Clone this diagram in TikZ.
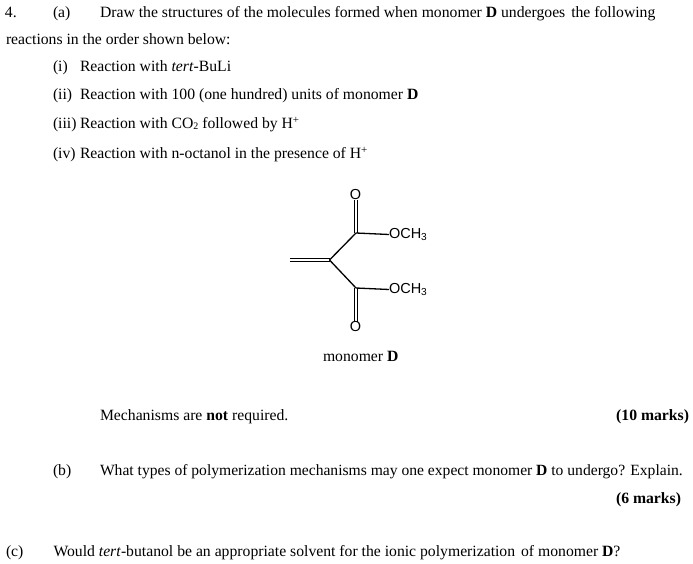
\documentclass[tikz,border=0pt]{standalone}
\usepackage{fontspec}
\setmainfont{Liberation Serif}
\newfontfamily\chemfont{Liberation Sans}
\tikzset{
  x=1pt,y=-1pt,
  txt/.style={anchor=base west,inner sep=0pt,outer sep=0pt,font=\fontsize{15.7}{18}\selectfont},
  txtb/.style={anchor=base west,inner sep=0pt,outer sep=0pt,font=\fontsize{15.6}{18}\selectfont},
  txtr/.style={anchor=base east,inner sep=0pt,outer sep=0pt,font=\fontsize{15.7}{18}\selectfont},
  atom/.style={inner sep=0pt,outer sep=0pt,font=\chemfont\fontsize{14.5}{16}\selectfont},
  bond/.style={draw=black,line width=1.3pt}
}
\newcommand{\boldD}{\textbf{D}}
\newcommand{\lowtwo}{\raisebox{-0.12ex}{\fontsize{10}{10}\selectfont 2}}
\begin{document}
\begin{tikzpicture}
\useasboundingbox (0,0) rectangle (693,564);
\node[txt] (n4) at (5,17.6) {4.};
\node[txt] (a) at (53,17.6) {(a)};
\node[txt] (l1) at (100,17.6) {Draw the structures of the molecules formed when monomer \boldD{} undergoes\hspace{2pt} the following};
\node[txt] (l2) at (6,44.6) {reactions in the order shown below:};
\node[txt] (i) at (53,71.6) {(i)};
\node[txt] (it) at (80,71.6) {Reaction with \textit{tert}-BuLi};
\node[txt] (ii) at (53,99.6) {(ii)};
\node[txt] (iit) at (80,99.6) {Reaction with 100 (one hundred) units of monomer \boldD};
\node[txt] (iii) at (53,128.6) {(iii)};
\node[txt] (iiit) at (80,128.6) {Reaction with CO\lowtwo{} followed by H\textsuperscript{+}};
\node[txt] (iv) at (53,158.6) {(iv)};
\node[txt] (ivt) at (80,158.6) {Reaction with n-octanol in the presence of H\textsuperscript{+}};

\coordinate (ch2) at (290,260);
\coordinate (cc) at (329.5,260);
\coordinate (cu) at (356,233);
\coordinate (cl) at (356,288);
\node[atom] (ou) at (355.5,195) {O};
\node[atom] (ol) at (355.5,327) {O};
\node[atom,anchor=west] (meu) at (389,234.5) {OCH\textsubscript{3}};
\node[atom,anchor=west] (mel) at (389,289.5) {OCH\textsubscript{3}};
\draw[bond] ([yshift=-1.6pt]ch2) -- ([yshift=-1.6pt]cc);
\draw[bond] ([yshift=1.6pt]ch2) -- ([yshift=1.6pt]cc);
\draw[bond] (cc) -- (cu);
\draw[bond] (cc) -- (cl);
\draw[bond] (cu) -- (meu.west);
\draw[bond] (cl) -- (mel.west);
\draw[bond] ([xshift=-1.8pt]cu) -- ([xshift=-1.8pt]cu |- ou.south);
\draw[bond] ([xshift=1.8pt]cu) -- ([xshift=1.8pt]cu |- ou.south);
\draw[bond] ([xshift=-1.8pt]cl) -- ([xshift=-1.8pt]cl |- ol.north);
\draw[bond] ([xshift=1.8pt]cl) -- ([xshift=1.8pt]cl |- ol.north);
\node[txt] (mono) at (323,361.6) {monomer \boldD};

\node[txt] (mech) at (100,420.6) {Mechanisms are \textbf{not} required.};
\node[txtr] (m10) at (689,420.6) {\textbf{(10 marks)}};
\node[txt] (b) at (53,475.6) {(b)};
\node[txtb] (bt) at (100,475.6) {What types of polymerization mechanisms may one expect monomer \boldD{} to undergo? Explain.};
\node[txtr] (m6) at (681,503.6) {\textbf{(6 marks)}};
\node[txt] (c) at (6,556.6) {(c)};
\node[txt] (ct) at (53.5,556.6) {Would \textit{tert}-butanol be an appropriate solvent for the ionic polymerization\hspace{2pt} of monomer \boldD?};
\end{tikzpicture}
\end{document}
